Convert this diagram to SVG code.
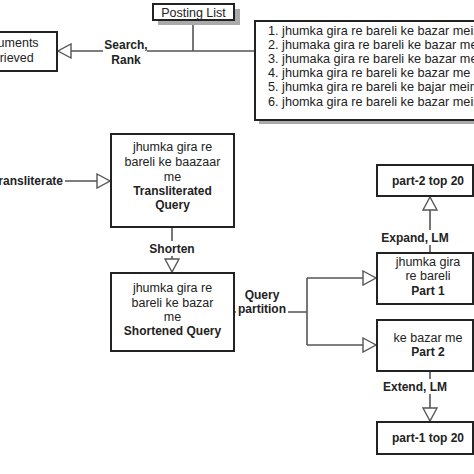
<svg xmlns="http://www.w3.org/2000/svg" width="474" height="474" viewBox="0 0 474 474">
<defs>
<style>
.box{fill:#fff;stroke:#222;stroke-width:2}
.shadow{fill:#aaa;stroke:none}
.t{font-family:"Liberation Sans",Arial,sans-serif;font-size:12.5px;fill:#222;text-anchor:middle}
.b{font-family:"Liberation Sans",Arial,sans-serif;font-size:12px;font-weight:bold;fill:#222;text-anchor:middle}
.l{font-family:"Liberation Sans",Arial,sans-serif;font-size:12.7px;fill:#222}
.c{fill:none;stroke:#555;stroke-width:1.6}
.bg{fill:#fff;stroke:none}
</style>
<marker id="tri" markerUnits="userSpaceOnUse" markerWidth="16" markerHeight="16" refX="14" refY="8" orient="auto">
<path d="M1,1 L14,8 L1,15 Z" fill="#fff" stroke="#555" stroke-width="1.4"/>
</marker>
</defs>
<rect width="474" height="474" fill="#fff"/>

<g id="connectors">
<path class="c" d="M193,20 V51"/>
<path class="c" d="M255,51 H58" marker-end="url(#tri)"/>
<rect class="bg" x="103" y="38" width="44" height="28"/>
<text class="b" x="126" y="49">Search,</text>
<text class="b" x="126" y="64">Rank</text>

<path class="c" d="M65,181 H110" marker-end="url(#tri)"/>
<text class="b" x="63" y="185" style="text-anchor:end">Transliterate</text>

<path class="c" d="M172,228 V272" marker-end="url(#tri)"/>
<rect class="bg" x="148" y="241" width="48" height="15"/>
<text class="b" x="172" y="253">Shorten</text>

<path class="c" d="M235,312 H307 M307,278 V345"/>
<path class="c" d="M307,278 H376" marker-end="url(#tri)"/>
<path class="c" d="M307,345 H376" marker-end="url(#tri)"/>
<rect class="bg" x="236" y="285" width="52" height="30"/>
<text class="b" x="262" y="299">Query</text>
<text class="b" x="262" y="313">partition</text>

<path class="c" d="M430,252 V197" marker-end="url(#tri)"/>
<rect class="bg" x="381" y="230" width="68" height="15"/>
<text class="b" x="415" y="242">Expand, LM</text>

<path class="c" d="M430,372 V421" marker-end="url(#tri)"/>
<rect class="bg" x="381" y="379" width="68" height="15"/>
<text class="b" x="415" y="391">Extend, LM</text>
</g>

<g id="posting-list">
<rect class="shadow" x="158" y="9" width="82" height="16"/>
<rect class="box" x="153" y="4" width="81" height="16"/>
<text class="t" x="193.5" y="17">Posting List</text>
</g>

<g id="documents-retrieved">
<rect class="box" x="-40" y="32" width="97" height="39"/>
<text class="t" x="7" y="47">Documents</text>
<text class="t" x="7" y="62">Retrieved</text>
</g>

<g id="candidate-list">
<rect class="shadow" x="259" y="25" width="230" height="99"/>
<rect class="box" x="255" y="21" width="230" height="99"/>
<text class="l" x="268" y="35">1. jhumka gira re bareli ke bazar mein</text>
<text class="l" x="268" y="49">2. jhumaka gira re bareli ke bazar mein</text>
<text class="l" x="268" y="63">3. jhumaka gira re bareli ke bazar mein</text>
<text class="l" x="268" y="77">4. jhumka gira re bareli ke bazar me</text>
<text class="l" x="268" y="91">5. jhumka gira re bareli ke bajar mein</text>
<text class="l" x="268" y="106">6. jhomka gira re bareli ke bazar mein</text>
</g>

<g id="transliterated-query">
<rect class="box" x="111" y="134" width="123" height="93"/>
<text class="t" x="172.5" y="151">jhumka gira re</text>
<text class="t" x="172.5" y="166">bareli ke baazaar</text>
<text class="t" x="172.5" y="181">me</text>
<text class="b" x="172.5" y="195">Transliterated</text>
<text class="b" x="172.5" y="209">Query</text>
</g>

<g id="shortened-query">
<rect class="box" x="111" y="273" width="123" height="78"/>
<text class="t" x="172.5" y="292">jhumka gira re</text>
<text class="t" x="172.5" y="307">bareli ke bazar</text>
<text class="t" x="172.5" y="321">me</text>
<text class="b" x="172.5" y="335">Shortened Query</text>
</g>

<g id="part2-top20">
<rect class="box" x="377" y="165" width="96" height="31"/>
<text class="b" x="428" y="185">part-2 top 20</text>
</g>

<g id="part1">
<rect class="box" x="377" y="253" width="96" height="51"/>
<text class="t" x="428" y="266">jhumka gira</text>
<text class="t" x="428" y="280">re bareli</text>
<text class="b" x="428" y="295">Part 1</text>
</g>

<g id="part2">
<rect class="box" x="377" y="320" width="96" height="51"/>
<text class="t" x="428" y="342">ke bazar me</text>
<text class="b" x="428" y="356">Part 2</text>
</g>

<g id="part1-top20">
<rect class="box" x="377" y="422" width="96" height="32"/>
<text class="b" x="428" y="442">part-1 top 20</text>
</g>
</svg>
